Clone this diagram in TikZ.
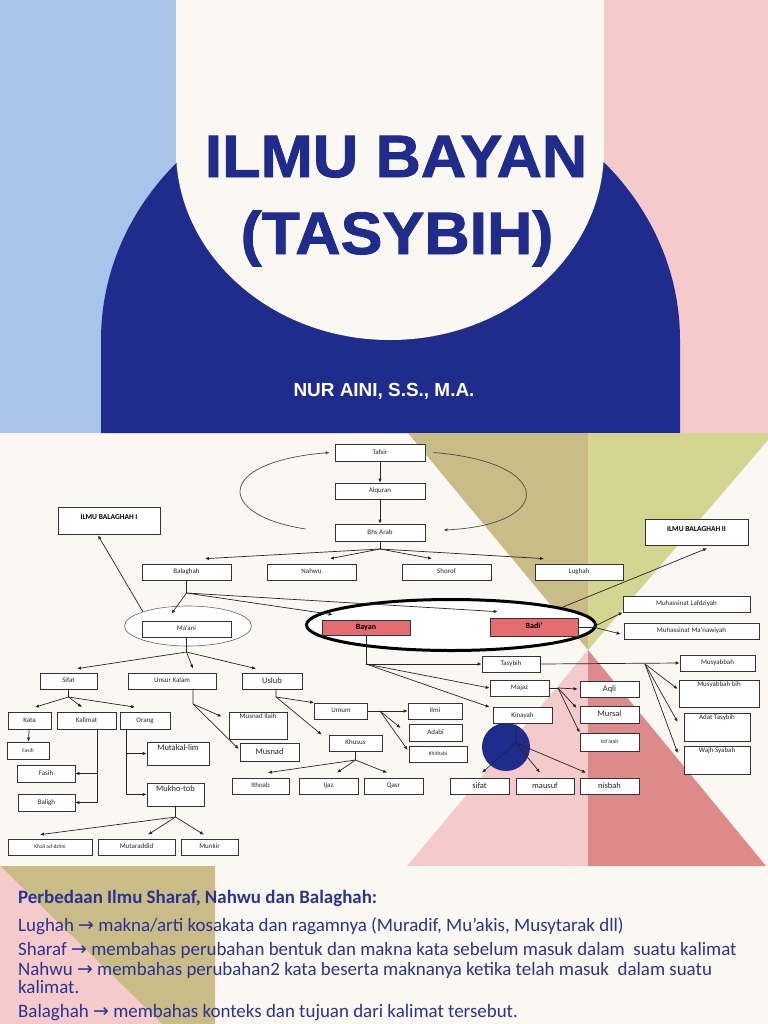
\documentclass[tikz,border=0pt]{standalone}
\usepackage{fontspec}
\setmainfont{Carlito}
\newfontfamily\titlefont{Liberation Sans}[BoldFeatures={FakeBold=1.5,FakeStretch=1.05}]
\newfontfamily\namefont{Liberation Sans}
\newfontfamily\arrowfont{DejaVu Sans}
\usetikzlibrary{arrows.meta,positioning,calc,shapes.geometric}
\definecolor{cream}{HTML}{FBF8F3}
\definecolor{skyblue}{HTML}{A9C4E9}
\definecolor{blush}{HTML}{F4CACB}
\definecolor{navy}{HTML}{1F2C8E}
\definecolor{khaki}{HTML}{C9BC86}
\definecolor{olive}{HTML}{D3D590}
\definecolor{rose}{HTML}{DE8A8B}
\definecolor{boxred}{HTML}{E36C6E}
\definecolor{inkblue}{HTML}{2B3392}
\tikzset{
  termbox/.style={
    draw=black!80,
    line width=0.7bp,
    fill=white,
    inner sep=1.5bp,
    text height=5bp,
    text depth=1.5bp,
    align=center,
    text=black!85,
    font=\fontsize{7}{8}\selectfont
  },
  boxsize/.style 2 args={minimum width=#1bp, minimum height=#2bp},
  tinyterm/.style={termbox, font=\fontsize{5.5}{6.5}\selectfont},
  bigterm/.style={termbox, text height=6bp, text depth=2bp, font=\fontsize{8.5}{10}\selectfont},
  redterm/.style={termbox, fill=boxred, text=black, font=\fontsize{8}{9}\selectfont\bfseries},
  topterm/.style={termbox, text depth=#1},
  bigtopterm/.style={termbox, text height=6bp, text depth=#1, font=\fontsize{8.5}{10}\selectfont},
  headterm/.style={termbox, text height=11bp, text depth=#1, text=black, font=\fontsize{7.5}{9}\selectfont\bfseries},
  notetext/.style={text=inkblue, inner sep=0pt, anchor=base west, font=\fontsize{19}{22}\selectfont},
  termline/.style={line width=0.7bp, draw=black!85},
  termarrow/.style={-{Latex[length=4bp,width=3.4bp]}, line width=0.7bp, draw=black!85}
}

\begin{document}
\begin{tikzpicture}[x=1bp, y=-1bp]
\useasboundingbox (0,0) rectangle (768,1024);
\fill[cream] (0,0) rectangle (768,1024);

% title slide
\fill[skyblue] (0,0) rectangle (176,433);
\fill[blush] (604,0) rectangle (768,433);
\fill[navy] (101,433) -- (101,340) .. controls (101,194.7) and (230.6,77) .. (390.5,77)
  .. controls (550.4,77) and (680,194.7) .. (680,340) -- (680,433) -- cycle;
\fill[cream] (176,0) -- (176,150) .. controls (176,255) and (271.8,340) .. (390,340)
  .. controls (508.2,340) and (604,255) .. (604,150) -- (604,0) -- cycle;
\node[text=navy, inner sep=0pt, anchor=base, font=\titlefont\bfseries\fontsize{60}{60}\selectfont] (title) at (396,177) {ILMU BAYAN};
\node[text=navy, inner sep=0pt, anchor=base, font=\titlefont\bfseries\fontsize{60}{60}\selectfont] (subtitle) at (397,254) {(TASYBIH)};
\node[text=white, inner sep=0pt, anchor=base, font=\namefont\bfseries\fontsize{19}{19}\selectfont] (author) at (384,396) {NUR AINI, S.S., M.A.};

% diagram slide
\fill[khaki] (408,433) -- (588,433) -- (588,650) -- cycle;
\fill[olive] (588,433) -- (768,433) -- (768,440) -- (588,650) -- cycle;
\fill[blush] (588,650) -- (407,866) -- (588,866) -- cycle;
\fill[rose] (588,650) -- (766,866) -- (588,866) -- cycle;

\node[circle, fill=navy, minimum size=48bp, inner sep=0pt] (kinayahdot) at (506,747) {};
\node[ellipse, draw=black!60, fill=white, line width=0.6bp, minimum width=127bp, minimum height=40bp, inner sep=0pt] (manioval) at (188,626) {};
\node[ellipse, draw=black, fill=white, line width=3bp, minimum width=289bp, minimum height=51bp, inner sep=0pt] (bayanoval) at (451,625) {};

\node[termbox, boxsize={90}{17}] (tafsir) at (380,452.5) {Tafsir};
\node[termbox, boxsize={90}{16}] (alquran) at (380,491) {Alquran};
\node[termbox, boxsize={90}{17}] (bhsarab) at (380,532.5) {Bhs Arab};
\node[headterm=13bp, boxsize={102}{27}] (balaghahone) at (109,520.5) {ILMU BALAGHAH I};
\node[headterm=12bp, boxsize={103}{26}] (balaghahtwo) at (696.5,532) {ILMU BALAGHAH II};
\node[termbox, boxsize={89}{16}] (balaghah) at (186.5,572) {Balaghah};
\node[termbox, boxsize={89}{16}] (nahwu) at (311.5,572) {Nahwu};
\node[termbox, boxsize={89}{16}] (shorof) at (446.5,572) {Shorof};
\node[termbox, boxsize={88}{16}] (lughah) at (579,572) {Lughah};
\node[termbox, boxsize={89}{16}] (mani) at (186.5,629) {Ma'ani};
\node[redterm, boxsize={88}{15}] (bayan) at (366,627.5) {Bayan};
\node[redterm, boxsize={88}{18}] (badi) at (534,627) {Badi’};
\node[termbox, boxsize={127}{16}] (lafdziyah) at (686.5,604) {Muhassinat Lafdziyah};
\node[termbox, boxsize={135}{16}] (manawiyah) at (691.5,631) {Muhassinat Ma'nawiyah};

\node[termbox, boxsize={58}{16}] (tasybih) at (511,664) {Tasybih};
\node[termbox, boxsize={59}{16}] (majaz) at (519.5,688) {Majaz};
\node[termbox, boxsize={59}{16}] (kinayah) at (522.5,715.5) {Kinayah};
\node[bigterm, boxsize={59}{16}] (aqli) at (609.5,689) {Aqli};
\node[bigterm, boxsize={59}{17}] (mursal) at (609.5,714.5) {Mursal};
\node[tinyterm, boxsize={59}{18}] (istiarah) at (609.5,742) {Isti'arah};
\node[termbox, boxsize={75}{16}] (musyabbah) at (717.5,663) {Musyabbah};
\node[topterm=19bp, boxsize={80}{27}] (musyabbahbih) at (719,693.5) {Musyabbah bih};
\node[topterm=20bp, boxsize={66}{28}] (adat) at (717,727) {Adat Tasybih};
\node[topterm=20bp, boxsize={66}{28}] (wajh) at (717,760) {Wajh Syabah};
\node[bigterm, boxsize={59}{16}] (sifatk) at (479.5,786) {sifat};
\node[bigterm, boxsize={58}{16}] (mausuf) at (545,786) {mausuf};
\node[bigterm, boxsize={59}{16}] (nisbah) at (609.5,786) {nisbah};

\node[termbox, boxsize={57}{16}] (sifat) at (68.5,681) {Sifat};
\node[termbox, boxsize={88}{16}] (unsur) at (172,681) {Unsur Kalam};
\node[bigterm, boxsize={60}{16}] (uslub) at (272,681) {Uslub};
\node[termbox, boxsize={43}{17}] (kata) at (29.5,721) {Kata};
\node[termbox, boxsize={59}{17}] (kalimat) at (86.5,721) {Kalimat};
\node[termbox, boxsize={50}{17}] (orang) at (145,721) {Orang};
\node[tinyterm, boxsize={42}{17}] (fasihkata) at (28,750.5) {Fasih};
\node[termbox, boxsize={58}{17}] (fasih) at (46,773.5) {Fasih};
\node[termbox, boxsize={57}{17}] (baligh) at (46.5,802.5) {Baligh};
\node[bigtopterm=12bp, boxsize={62}{23}] (mutakallim) at (178,753.5) {Mutakal-lim};
\node[bigtopterm=12bp, boxsize={57}{23}] (mukhotob) at (175.5,794.5) {Mukho-tob};
\node[tinyterm, boxsize={84}{16}] (khali) at (50,847) {Khali ad-dzhni};
\node[termbox, boxsize={77}{16}] (mutaraddid) at (136.5,847) {Mutaraddid};
\node[termbox, boxsize={57}{16}] (munkir) at (209.5,847) {Munkir};
\node[topterm=19bp, boxsize={58}{27}] (musnadilaih) at (258,725.5) {Musnad Ilaih};
\node[bigterm, boxsize={59}{18}] (musnad) at (269.5,752) {Musnad};
\node[termbox, boxsize={53}{16}] (umum) at (341,711) {Umum};
\node[termbox, boxsize={53}{16}] (khusus) at (355.5,743) {Khusus};
\node[termbox, boxsize={54}{16}] (ilmi) at (435,711) {Ilmi};
\node[termbox, boxsize={53}{17}] (adabi) at (435.5,732.5) {Adabi};
\node[tinyterm, boxsize={58}{16}] (khithabi) at (438,754) {Khithabi};
\node[termbox, boxsize={57}{16}] (ithnab) at (260.5,786) {Ithnab};
\node[termbox, boxsize={59}{16}] (ijaz) at (328.5,786) {Ijaz};
\node[termbox, boxsize={59}{16}] (qasr) at (393.5,786) {Qasr};

\coordinate (bhsfork) at (380,549);
\coordinate (balfork) at (186.5,593);
\coordinate (manifork) at (186.5,652);
\coordinate (sifatfork) at (68.5,697);
\coordinate (kalimatmid) at (97.5,773.5);
\coordinate (orangmid) at (126,753.5);
\coordinate (mukhofork) at (175.5,817);
\coordinate (unsurfork) at (193,704);
\coordinate (uslubfork) at (276,697);
\coordinate (umumfork) at (380,711);
\coordinate (khususfork) at (355.5,760);
\coordinate (bayanfork) at (366,664);
\coordinate (majazfork) at (558,688);
\coordinate (tasybihfork) at (645,664);
\coordinate (badifork) at (593,627);
\coordinate (kinayahfork) at (516,743);

\draw[termarrow] (tafsir) -- (alquran);
\draw[termarrow] (alquran) -- (bhsarab);
\draw[termarrow, draw=black!70] ([xshift=-29bp,yshift=3.5bp]bhsarab.west) .. controls (215,515) and (215,462) .. ([xshift=-5bp]tafsir.west);
\draw[termarrow, draw=black!70] ([xshift=8bp]tafsir.east) .. controls (555,462) and (555,525) .. ([xshift=18bp,yshift=2.5bp]bhsarab.east);

\draw[termline] (bhsarab.south) -- (bhsfork);
\draw[termarrow] (bhsfork) -- ([xshift=18.5bp,yshift=5bp]balaghah.north);
\draw[termarrow] (bhsfork) -- ([xshift=18.5bp,yshift=5bp]nahwu.north);
\draw[termarrow] (bhsfork) -- ([xshift=-14.5bp,yshift=5bp]shorof.north);
\draw[termarrow] (bhsfork) -- ([xshift=-35bp,yshift=5bp]lughah.north);

\draw[termline] (balaghah.south) -- (balfork);
\draw[termarrow] (balfork) -- ([xshift=-15bp,yshift=7bp]mani.north);
\draw[termarrow] (balfork) -- ([xshift=11bp,yshift=5bp]bayan.north west);
\draw[termarrow] (balfork) -- ([xshift=8bp,yshift=6bp]badi.north west);
\draw[termarrow] (manioval.north west) -- ([xshift=-11bp,yshift=-1bp]balaghahone.south);
\draw[termarrow] (bayanoval.9) -- ([xshift=10.5bp,yshift=-3bp]balaghahtwo.south);

\draw[termline] (badi.east) -- (badifork);
\draw[termarrow] (badifork) -- (lafdziyah.south west);
\draw[termarrow] (badifork) -- ([xshift=-3bp,yshift=-3bp]manawiyah.west);

\draw[termline] (mani.south) -- (manifork);
\draw[termarrow] (manifork) -- ([xshift=8.5bp,yshift=4bp]sifat.north);
\draw[termarrow] (manifork) -- ([xshift=21bp,yshift=4bp]unsur.north);
\draw[termarrow] (manifork) -- ([xshift=-16bp,yshift=4bp]uslub.north);

\draw[termline] (sifat.south) -- (sifatfork);
\draw[termarrow] (sifatfork) -- ([xshift=5.5bp,yshift=5bp]kata.north);
\draw[termarrow] (sifatfork) -- ([xshift=-4.5bp,yshift=5bp]kalimat.north);
\draw[termarrow] (sifatfork) -- ([xshift=-10bp,yshift=5bp]orang.north);
\draw[termarrow] (kata) -- (fasihkata);
\draw[termarrow] ([xshift=11bp]kalimat.south) |- (baligh.east);
\draw[termarrow] (kalimatmid) -- (fasih.east);
\draw[termarrow] ([xshift=-19bp]orang.south) |- (mukhotob.west);
\draw[termarrow] (orangmid) -- (mutakallim.west);

\draw[termline] (mukhotob.south) -- (mukhofork);
\draw[termarrow] (mukhofork) -- ([xshift=-10bp,yshift=4bp]khali.north);
\draw[termarrow] (mukhofork) -- ([xshift=11.5bp,yshift=4bp]mutaraddid.north);
\draw[termarrow] (mukhofork) -- ([xshift=-5.5bp,yshift=4bp]munkir.north);

\draw[termline] ([xshift=21bp]unsur.south) -- (unsurfork);
\draw[termarrow] (unsurfork) -- ([xshift=-7bp,yshift=-5bp]musnadilaih.north west);
\draw[termarrow] (unsurfork) -- ([xshift=-1bp,yshift=3bp]musnad.west);

\draw[termline] ([xshift=4bp]uslub.south) -- (uslubfork);
\draw[termarrow] (uslubfork) -- (umum.north west);
\draw[termarrow] (uslubfork) -- ([xshift=-7bp]khusus.north west);

\draw[termline] (umum.east) -- (umumfork);
\draw[termarrow] (umumfork) -- (ilmi.west);
\draw[termarrow] (umumfork) -- ([xshift=-8bp,yshift=4.5bp]adabi.west);
\draw[termarrow] (umumfork) -- ([xshift=-1bp,yshift=4bp]khithabi.west);

\draw[termline] (khusus.south) -- (khususfork);
\draw[termarrow] (khususfork) -- ([xshift=7.5bp,yshift=5bp]ithnab.north);
\draw[termarrow] (khususfork) -- ([xshift=8.5bp,yshift=5bp]ijaz.north);
\draw[termarrow] (khususfork) -- ([xshift=-6.5bp,yshift=5bp]qasr.north);

\draw[termline] (bayan.south) -- (bayanfork);
\draw[termarrow] (bayanfork) -- (tasybih.west);
\draw[termarrow] (bayanfork) -- (majaz.west);
\draw[termarrow] (bayanfork) -- ([xshift=-3bp]kinayah.north west);

\draw[termline] (majaz.east) -- (majazfork);
\draw[termarrow] (majazfork) -- ([xshift=-2bp]aqli.west);
\draw[termarrow] (majazfork) -- ([xshift=-3bp,yshift=6.5bp]mursal.west);
\draw[termarrow] (majazfork) -- (istiarah.north west);

\draw[termarrow] (tasybih.east) -- (musyabbah.west);
\draw[termarrow] (tasybihfork) -- ([xshift=-1bp,yshift=4.5bp]musyabbahbih.west);
\draw[termarrow] (tasybihfork) -- ([xshift=-6bp,yshift=5bp]adat.west);
\draw[termarrow] (tasybihfork) -- ([xshift=-6bp,yshift=7bp]wajh.west);

\draw[termline] ([xshift=-6.5bp]kinayah.south) -- (kinayahfork);
\draw[termarrow] (kinayahfork) -- ([xshift=2.5bp,yshift=5bp]sifatk.north);
\draw[termarrow] (kinayahfork) -- ([xshift=-5bp,yshift=5bp]mausuf.north);
\draw[termarrow] (kinayahfork) -- ([xshift=-23.5bp,yshift=5bp]nisbah.north);

% notes slide
\fill[khaki] (0,866) -- (215,866) -- (215,1024) -- (162,1024) -- cycle;
\fill[blush] (0,866) -- (162,1024) -- (0,1024) -- cycle;
\node[notetext, font=\fontsize{19}{22}\selectfont\bfseries] (notehead) at (18,903) {Perbedaan Ilmu Sharaf, Nahwu dan Balaghah:};
\node[notetext] (notelughah) at (18,931) {Lughah {\arrowfont →} makna/arti kosakata dan ragamnya (Muradif, Mu’akis, Musytarak dll)};
\node[notetext] (notesharaf) at (18,955) {Sharaf {\arrowfont →} membahas perubahan bentuk dan makna kata sebelum masuk dalam\ \ suatu kalimat};
\node[notetext] (notenahwu) at (18,975) {Nahwu {\arrowfont →} membahas perubahan2 kata beserta maknanya ketika telah masuk\ \ dalam suatu};
\node[notetext] (notenahwutail) at (18,993) {kalimat.};
\node[notetext] (notebalaghah) at (18,1017) {Balaghah {\arrowfont →} membahas konteks dan tujuan dari kalimat tersebut.};
\end{tikzpicture}
\end{document}
